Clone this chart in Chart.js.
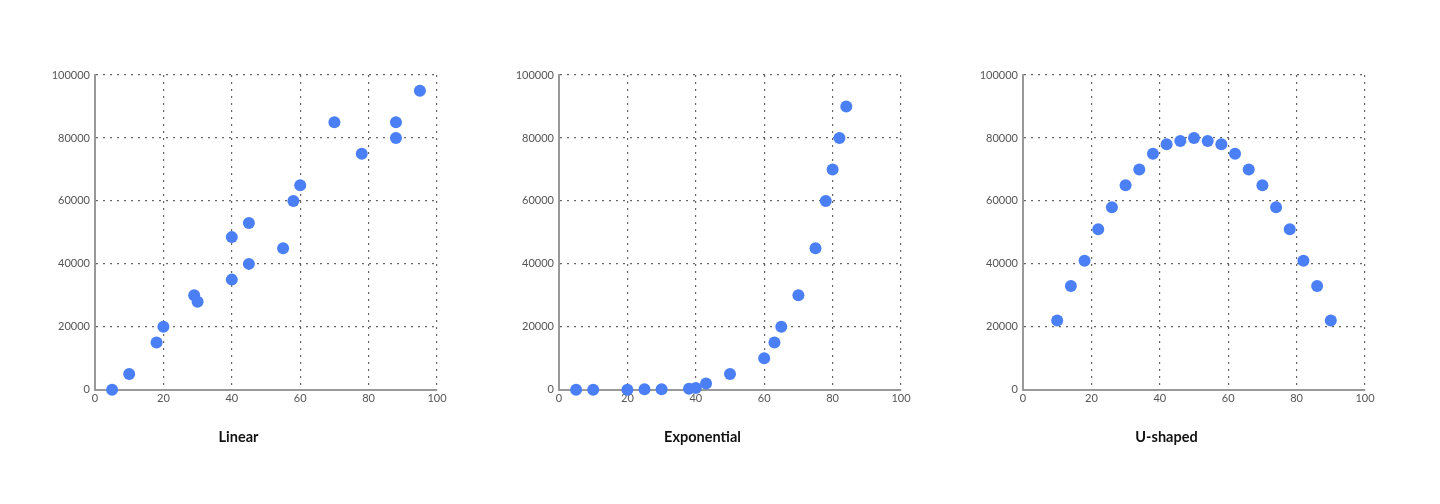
<!DOCTYPE html>
<html>
<head>
<meta charset="utf-8">
<script src="https://cdn.jsdelivr.net/npm/chart.js@4/dist/chart.umd.min.js"></script>
<style>
  html, body { margin: 0; padding: 0; background: #fff; }
  body { width: 1440px; height: 504px; position: relative; overflow: hidden; }
  .box { position: absolute; top: 0; width: 420px; height: 480px; }
</style>
</head>
<body>
<div class="box" style="left:40px"><canvas id="c0"></canvas></div>
<div class="box" style="left:504px"><canvas id="c1"></canvas></div>
<div class="box" style="left:968px"><canvas id="c2"></canvas></div>
<script>
// Chart titles
const titles = ["Linear", "Exponential", "U-shaped"];

// Linear
const linearX = [5, 10, 18, 20, 29, 30, 40, 40, 45, 45, 55, 58, 60, 70, 78, 88, 88, 95];
const linearY = [0, 5000, 15000, 20000, 30000, 28000, 35000, 48500, 40000, 53000, 45000, 60000, 65000, 85000, 75000, 80000, 85000, 95000];

// Exponential
const expX = [5, 10, 20, 25, 30, 38, 40, 43, 50, 60, 63, 65, 70, 75, 78, 80, 82, 84];
const expY = [0, 0, 0, 200, 200, 300, 600, 2000, 5000, 10000, 15000, 20000, 30000, 45000, 60000, 70000, 80000, 90000];

// U-shaped
const uX = [10, 14, 18, 22, 26, 30, 34, 38, 42, 46, 50, 54, 58, 62, 66, 70, 74, 78, 82, 86, 90];
const uY = [22000, 33000, 41000, 51000, 58000, 65000, 70000, 75000, 78000, 79000, 80000, 79000, 78000, 75000, 70000, 65000, 58000, 51000, 41000, 33000, 22000];

// Axis ticks
const xTicks = [0, 20, 40, 60, 80, 100];
const yTicks = [0, 20000, 40000, 60000, 80000, 100000];

const seriesX = [linearX, expX, uX];
const seriesY = [linearY, expY, uY];

const FONT = "Lato, 'Open Sans', sans-serif";

function makeChart(i) {
  const pts = seriesX[i].map((x, k) => ({ x: x, y: seriesY[i][k] }));
  new Chart(document.getElementById('c' + i), {
    type: 'scatter',
    data: {
      datasets: [{
        data: pts,
        backgroundColor: '#4a7ff5',
        borderWidth: 0,
        pointRadius: 6,
        pointHoverRadius: 6,
        clip: false
      }]
    },
    options: {
      responsive: true,
      maintainAspectRatio: false,
      animation: false,
      layout: { padding: { top: 75, left: 0, right: 23, bottom: 34.2 } },
      plugins: {
        legend: { display: false },
        tooltip: { enabled: false },
        title: {
          display: true,
          text: titles[i],
          position: 'bottom',
          color: '#111',
          font: { family: FONT, size: 14.5, weight: 'bold' },
          padding: { top: 20, bottom: 0 }
        }
      },
      scales: {
        x: {
          type: 'linear',
          min: 0, max: 100,
          afterBuildTicks: s => { s.ticks = xTicks.map(v => ({ value: v })); },
          afterFit: s => { s.height = 18.6; },
          ticks: { color: '#555', font: { family: FONT, size: 11 }, padding: 2, maxRotation: 0 },
          grid: { color: '#666', lineWidth: 1.2, drawTicks: false },
          border: { display: true, color: '#999', width: 2, dash: [2, 5] }
        },
        y: {
          type: 'linear',
          min: 0, max: 100000,
          afterBuildTicks: s => { s.ticks = yTicks.map(v => ({ value: v })); },
          afterFit: s => { s.width = 55; },
          ticks: { color: '#555', font: { family: FONT, size: 11 }, padding: 5, callback: v => String(v) },
          grid: { color: '#666', lineWidth: 1.2, drawTicks: false },
          border: { display: true, color: '#999', width: 2, dash: [2, 5] }
        }
      }
    }
  });
}

for (let i = 0; i < 3; i++) makeChart(i);
</script>
</body>
</html>
